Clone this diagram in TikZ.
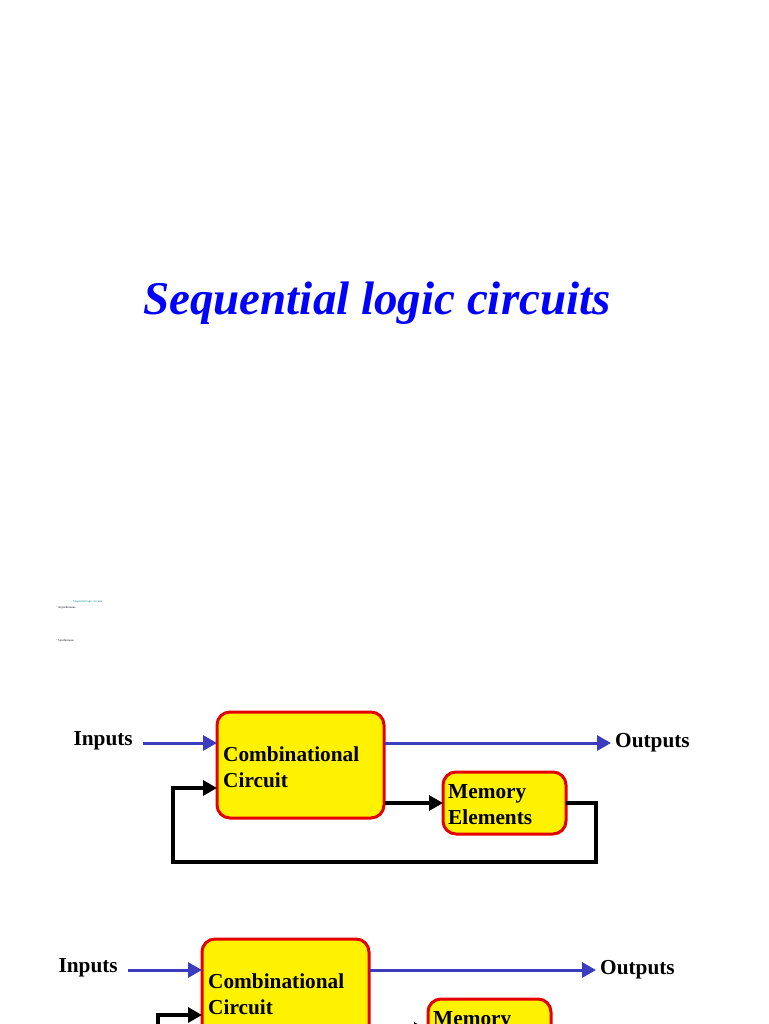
\documentclass[tikz,border=0pt]{standalone}
\usepackage{fontspec}
\setmainfont{Liberation Serif}
\usetikzlibrary{arrows.meta}
\begin{document}
\begin{tikzpicture}[x=1pt,y=-1pt,
 box/.style={draw=red!90!black,line width=3pt,fill=yellow,rounded corners=13pt},
 lbl/.style={font=\bfseries\fontsize{21.3}{26}\selectfont,align=left,inner sep=0pt},
 blue arrow/.style={draw={rgb,255:red,60;green,60;blue,190},line width=3pt,-{Triangle[length=14pt,width=15pt]}},
 black arrow/.style={draw=black,line width=3.3pt,-{Triangle[length=14pt,width=15pt]}}]
\useasboundingbox (0,0) rectangle (768,1024);
\clip (0,0) rectangle (768,1024);
\node (title) at (377,303) {\color{blue}\bfseries\itshape\fontsize{47}{52}\selectfont Sequential logic circuits};
\node[font=\fontsize{3}{4}\selectfont,text=teal,anchor=west,inner sep=0] (s1) at (73,602) {Sequential logic circuits};
\node[font=\fontsize{3}{4}\selectfont,anchor=west,inner sep=0] (s2) at (55,608) {$\cdot$ Asynchronous};
\node[font=\fontsize{3}{4}\selectfont,anchor=west,inner sep=0] (s3) at (55,641) {$\cdot$ Synchronous};
\foreach \dx/\dy/\n in {0/0/a,-15/227/b}{
 \begin{scope}[shift={(\dx,\dy)}]
 \draw[box] (217,712) rectangle (384,818);
 \node[lbl,anchor=west] (ct\n) at (223,767) {Combinational\\Circuit};
 \draw[box] (443,772) rectangle (566,834);
 \node[lbl,anchor=west] (mt\n) at (448,805) {Memory\\Elements};
 \node[lbl,anchor=east] (in\n) at (133,741) {Inputs};
 \node[lbl,anchor=west] (out\n) at (615,743) {Outputs};
 \coordinate (i1\n) at (143,743); \coordinate (i2\n) at (217,743);
 \coordinate (o1\n) at (385,743); \coordinate (o2\n) at (611,743);
 \draw[blue arrow] (i1\n) -- (i2\n);
 \draw[blue arrow] (o1\n) -- (o2\n);
 \coordinate (m1\n) at (385,803); \coordinate (m2\n) at (443,803);
 \draw[black arrow] (m1\n) -- (m2\n);
 \coordinate (f1\n) at (566,803); \coordinate (f2\n) at (217,788);
 \draw[black arrow] (f1\n) -- (596,803) -- (596,862) -- (173,862) -- (173,788) -- (f2\n);
 \end{scope}}
\end{tikzpicture}
\end{document}
